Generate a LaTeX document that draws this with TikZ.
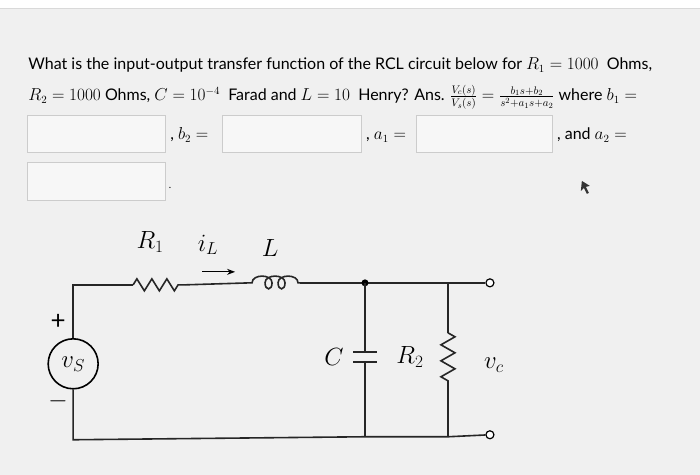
\documentclass[tikz,border=0pt]{standalone}
\usepackage{fontspec}
\setmainfont{Lato}
\usetikzlibrary{decorations.pathmorphing,arrows.meta}
\begin{document}
\begin{tikzpicture}[x=1pt,y=-1pt,
  wire/.style={line width=1.6pt,black!85},
  ansbox/.style={draw=black!20,fill=black!3,line width=0.8pt},
  txt/.style={anchor=base west,inner sep=0,font=\fontsize{16}{18}\selectfont},
  lbl/.style={font=\fontsize{26}{28}\selectfont}]
\fill[black!6] (0,0) rectangle (700,475);
\fill[white] (0,0) rectangle (700,8);
\draw[black!15] (0,8) -- (700,8);
\node[txt] (q1) at (28,70) {What is the input-output transfer function of the RCL circuit below for $R_1=1000$~~Ohms,};
\node[txt] (q2) at (28,101) {$R_2=1000$ Ohms, $C=10^{-4}$~~Farad and $L=10$~~Henry? Ans. $\frac{V_c(s)}{V_s(s)}=\frac{b_1s+b_2}{s^2+a_1s+a_2}$ where $b_1=$};
\node[ansbox,minimum width=138,minimum height=37,anchor=north west] (bx1) at (27,115) {};
\node[ansbox,minimum width=139,minimum height=37,anchor=north west] (bx2) at (222,115) {};
\node[ansbox,minimum width=136,minimum height=37,anchor=north west] (bx3) at (416,115) {};
\node[ansbox,minimum width=138,minimum height=38,anchor=north west] (bx4) at (27,162) {};
\node[txt] (t1) at (170,140) {, $b_2=$};
\node[txt] (t2) at (366,140) {, $a_1=$};
\node[txt] (t3) at (557,140) {, and $a_2=$};
\node[inner sep=0] (dot) at (170,188) {.};
\fill[black!80] (582,181) -- (590,186) -- (586,187) -- (589,193) -- (587,194) -- (584,188) -- (581,191) -- cycle;
% circuit
\coordinate (tl) at (73,285); \coordinate (bl) at (73,440);
\coordinate (r1a) at (133,285); \coordinate (r1b) at (185,285);
\coordinate (la) at (250,283); \coordinate (lb) at (300,283);
\coordinate (n1) at (365,283); \coordinate (n2) at (448,283);
\coordinate (b1) at (365,437); \coordinate (b2) at (448,437);
\node[circle,draw,line width=1.6pt,minimum size=50,inner sep=0] (vs) at (73,364) {};
\node[lbl] at (vs) {$v_S$};
\node[circle,draw,line width=1.2pt,minimum size=8,inner sep=0,fill=white] (o1) at (490,283) {};
\node[circle,draw,line width=1.2pt,minimum size=8,inner sep=0,fill=white] (o2) at (490,435) {};
\draw[wire] (vs.north) -- (tl) -- (r1a);
\draw[wire,decoration={zigzag,segment length=15,amplitude=6},decorate] (r1a) -- (r1b);
\draw[wire] (r1b) -- (la);
\draw[wire] (la) -- (252,283)
  .. controls (252,274) and (272,274) .. (272,283)
  .. controls (272,291) and (265,291) .. (265,283)
  .. controls (265,274) and (285,274) .. (285,283)
  .. controls (285,291) and (278,291) .. (278,283)
  .. controls (278,274) and (298,274) .. (298,283) -- (lb);
\draw[wire] (lb) -- (n1) -- (o1);
\draw[wire] (vs.south) -- (bl) -- (b1) -- (b2) -- (o2);
\fill (n1) circle (3.5);
\draw[wire] (n1) -- (365,352); \draw[wire] (365,362) -- (b1);
\draw[wire] (353,352) -- (377,352); \draw[wire] (353,362) -- (377,362);
\draw[wire] (n2) -- (448,333);
\draw[wire,decoration={zigzag,segment length=16,amplitude=7},decorate] (448,333) -- (448,383);
\draw[wire] (448,383) -- (b2);
\draw[-{Stealth[length=8]},line width=1.1pt] (202,272) -- (235,272);
\node[lbl] at (150,242) {$R_1$};
\node[lbl] at (208,245) {$i_L$};
\node[lbl] at (270,248) {$L$};
\node[font=\fontsize{26}{26}\selectfont] at (58,322) {+};
\node[font=\fontsize{26}{26}\selectfont] at (58,402) {$-$};
\node[lbl] at (334,357) {$C$};
\node[lbl] at (410,357) {$R_2$};
\node[lbl] at (494,365) {$v_c$};
\end{tikzpicture}
\end{document}
